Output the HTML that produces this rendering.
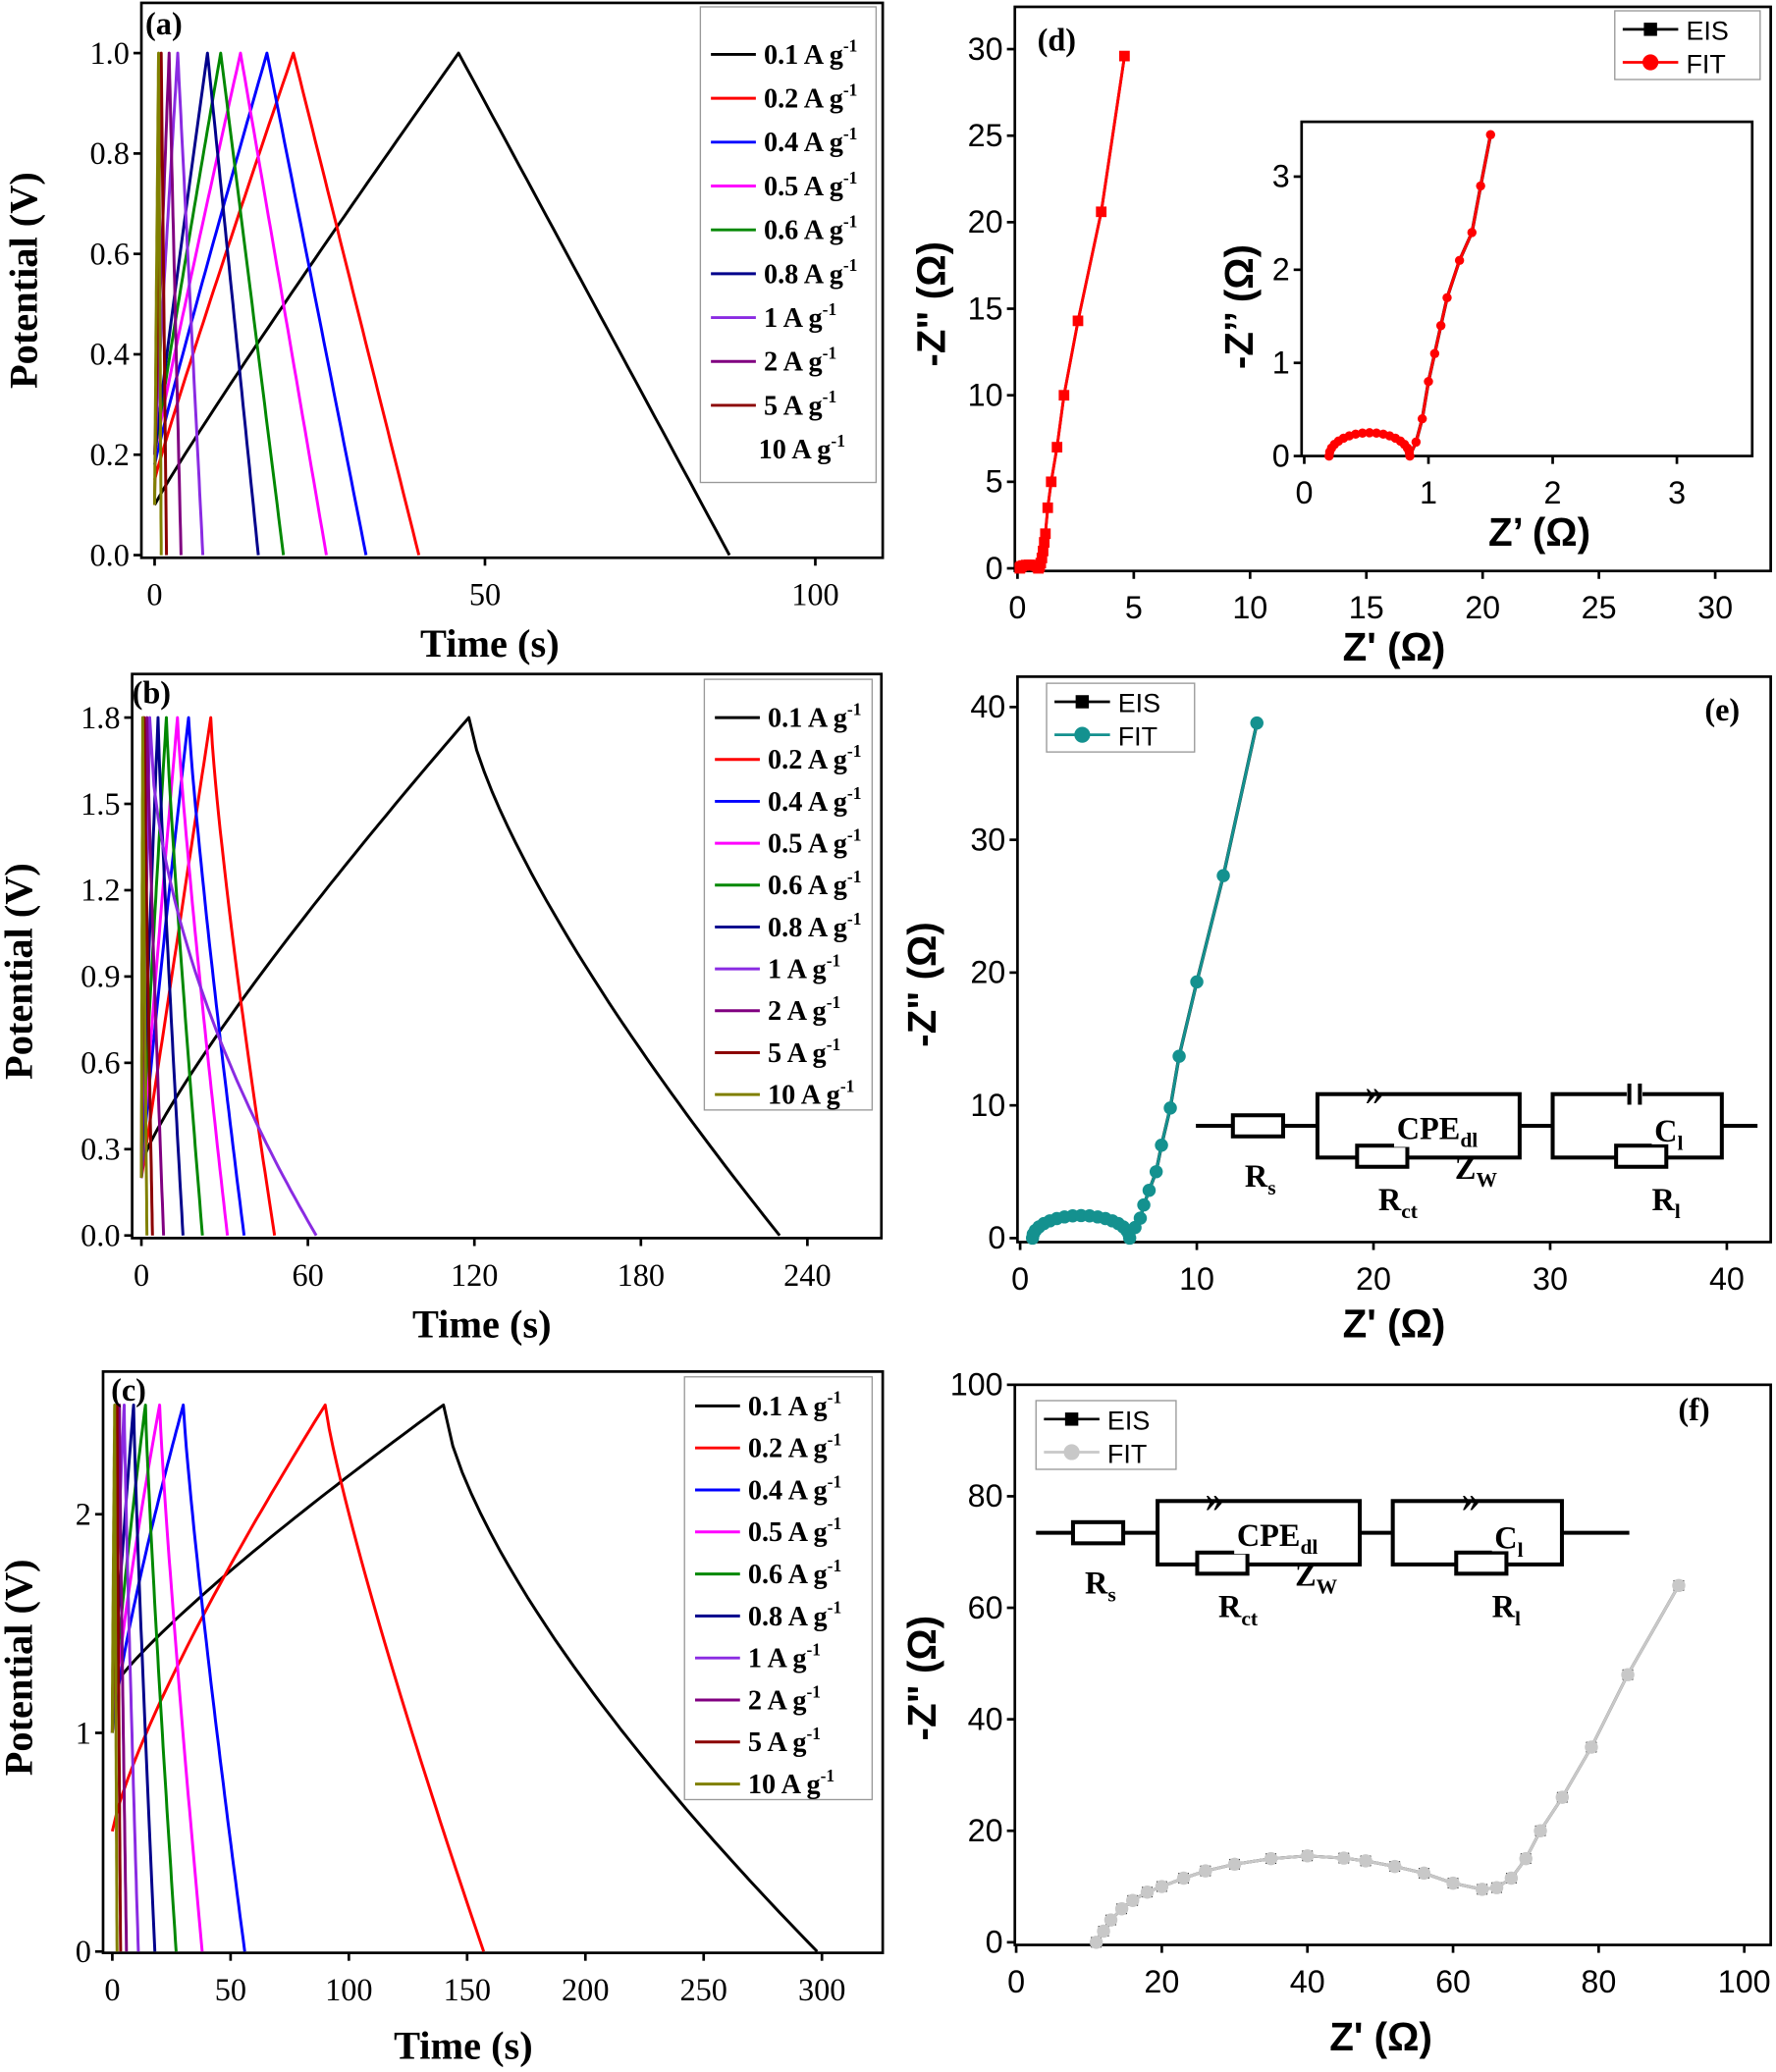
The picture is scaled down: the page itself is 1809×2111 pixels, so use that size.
<!DOCTYPE html>
<html><head><meta charset="utf-8"><style>html,body{margin:0;padding:0;background:#fff}svg{display:block}</style></head>
<body>
<svg id="s" xmlns="http://www.w3.org/2000/svg" width="1809" height="2111" viewBox="0 0 1344 1568" font-family="Liberation Serif, serif">
<rect width="1344" height="1568" fill="#fff"/>
</svg>
<script>
const S=document.getElementById('s');const NS='http://www.w3.org/2000/svg';
function el(t,a,txt){const e=document.createElementNS(NS,t);for(const k in a)e.setAttribute(k,a[k]);if(txt!==undefined)e.innerHTML=txt;S.appendChild(e);return e;}
function pl(pts,c,w){el('polyline',{points:pts.map(p=>p[0].toFixed(1)+','+p[1].toFixed(1)).join(' '),fill:'none',stroke:c,'stroke-width':w||2,'stroke-linejoin':'round'});}
function axes(o){
 el('rect',{x:o.l,y:o.t,width:o.r-o.l,height:o.b-o.t,fill:'none',stroke:'#000','stroke-width':2});
 const ff=o.sans?'Liberation Sans, sans-serif':'Liberation Serif, serif';
 o.xt.forEach(v=>{const x=o.x0+v*o.xs;el('line',{x1:x,y1:o.b,x2:x,y2:o.b+6,stroke:'#000','stroke-width':2});
  el('text',{x:x,y:o.b+36,'text-anchor':'middle','font-size':24,'font-family':ff},String(v));});
 o.yt.forEach(v=>{const y=o.y0-v*o.ys;el('line',{x1:o.l,y1:y,x2:o.l-6,y2:y,stroke:'#000','stroke-width':2});
  el('text',{x:o.l-9,y:y+8,'text-anchor':'end','font-size':24,'font-family':ff},o.fmt?o.fmt(v):String(v));});
}
function T(x,y,s,sz,extra){return el('text',Object.assign({x:x,y:y,'font-size':sz||28,'font-weight':'bold'},extra||{}),s);}
const cols=['#000','#f00','#00f','#f0f','#080','#00008b','#8a2be2','#800080','#8b0000','#808000'];
const labs=['0.1','0.2','0.4','0.5','0.6','0.8','1','2','5','10'];
function gcd(o,x0,xs,y0,ys){
 const [v0,vm,tp,te,c,pc,pd]=o;const pts=[];
 for(let i=0;i<=40;i++){const u=i/40;pts.push([x0+u*tp*xs,y0-(v0+(vm-v0)*Math.pow(u,pc||1))*ys]);}
 for(let i=1;i<=40;i++){const u=i/40;pts.push([x0+(tp+u*(te-tp))*xs,y0-vm*(1-Math.pow(u,pd||1))*ys]);}
 pl(pts,c,2.2);
}
function legend(x,y,w,h,y1,dy,n,showLast){
 el('rect',{x:x,y:y,width:w,height:h,fill:'#fff',stroke:'#999','stroke-width':1});
 for(let i=0;i<n;i++){const yy=y1+i*dy;if(i<9||showLast)el('line',{x1:x+8,y1:yy,x2:x+42,y2:yy,stroke:cols[i],'stroke-width':2.2});
  el('text',{x:x+(i==9&&!showLast?44:48),y:yy+7,'font-size':21,'font-weight':'bold'},labs[i]+' A g<tspan dy="-9" font-size="13">-1</tspan>');}
}
// (a)
axes({l:107,r:668,t:2,b:422,x0:117,xs:5,y0:420,ys:380,xt:[0,50,100],yt:[0,0.2,0.4,0.6,0.8,1],fmt:v=>v.toFixed(1)});
[[0.1,1,46,87],[0.15,1,21,40],[0.18,1,17,32],[0.2,1,13,26],[0.2,1,10,19.5],[0.2,1,8,15.7],[0.2,1,3.5,7.3],[0.2,1,2.2,4],[0.1,1,1,1.8],[0.1,1,0.6,1]].forEach((d,i)=>{d[4]=cols[i];d[5]=0.95;gcd(d,117,5,420,380);});
legend(530,5,133,360,41,33.2,10,false);
T(110,26,'(a)',24);
T(318,497,'Time (s)',30);
T(0,0,'Potential (V)',30,{transform:'translate(28,212) rotate(-90)','text-anchor':'middle'});
// (b)
axes({l:100,r:667,t:510,b:937,x0:107,xs:2.1,y0:935,ys:217.8,xt:[0,60,120,180,240],yt:[0,0.3,0.6,0.9,1.2,1.5,1.8],fmt:v=>v.toFixed(1)});
[[0.25,1.8,118,230,0,0.85,0.75],[0.2,1.8,25,48,0,1,0.8],[0.2,1.8,17,37],[0.2,1.8,13,31],[0.2,1.8,9,22],[0.2,1.8,6,15],[0.2,1.8,3,63,0,1,0.55],[0.2,1.8,2,8],[0.2,1.8,1,4],[0.2,1.8,0.5,2]].forEach((d,i)=>{d[4]=cols[i];if(!d[5])d[5]=0.9;if(!d[6])d[6]=0.85;gcd(d,107,2.1,935,217.8);});
legend(533,514,127,326,543,31.7,10,true);
T(100,532,'(b)',24);
T(312,1012,'Time (s)',30);
T(0,0,'Potential (V)',30,{transform:'translate(24,735) rotate(-90)','text-anchor':'middle'});
// (c)
axes({l:78,r:668,t:1038,b:1478,x0:85,xs:1.79,y0:1477,ys:165.5,xt:[0,50,100,150,200,250,300],yt:[0,1,2]});
[[1.2,2.5,140,298,0,0.85,0.7],[0.55,2.5,90,157,0,0.8,0.85],[1.0,2.5,30,56],[1.0,2.5,20,38],[1.0,2.5,14,27],[1.0,2.5,9,18],[1.0,2.5,5,11],[1.0,2.5,3,6],[1.0,2.5,2,3.5],[1.0,2.5,1,2]].forEach((d,i)=>{d[4]=cols[i];if(!d[5])d[5]=0.8;if(!d[6])d[6]=0.85;gcd(d,85,1.79,1477,165.5);});
legend(518,1042,142,320,1064,31.8,10,true);
T(84,1060,'(c)',24);
T(298,1558,'Time (s)',30);
T(0,0,'Potential (V)',30,{transform:'translate(24,1262) rotate(-90)','text-anchor':'middle'});
// EIS
function semi(x1,x2,h,n){const p=[];for(let i=0;i<=n;i++){const a=Math.PI*i/n;p.push([(x1+x2)/2-(x2-x1)/2*Math.cos(a),h*Math.sin(a)]);}return p;}
function eis(data,x0,xs,y0,ys,c,shape,msz,line){const pts=data.map(p=>[x0+p[0]*xs,y0-p[1]*ys]);if(line!==false)pl(pts,c,2.2);
 pts.forEach(p=>{if(shape=='sq')el('rect',{x:p[0]-msz,y:p[1]-msz,width:2*msz,height:2*msz,fill:c});else el('circle',{cx:p[0],cy:p[1],r:msz,fill:c});});}
function eisLeg(x,y,w,c2){el('rect',{x:x,y:y,width:w,height:52,fill:'#fff',stroke:'#999'});
 el('line',{x1:x+6,y1:y+14,x2:x+48,y2:y+14,stroke:'#000','stroke-width':2});el('rect',{x:x+22,y:y+9,width:10,height:10,fill:'#000'});
 el('line',{x1:x+6,y1:y+39,x2:x+48,y2:y+39,stroke:c2,'stroke-width':2});el('circle',{cx:x+27,cy:y+39,r:6,fill:c2});
 el('text',{x:x+54,y:y+22,'font-size':20,'font-family':'Liberation Sans, sans-serif'},'EIS');
 el('text',{x:x+54,y:y+47,'font-size':20,'font-family':'Liberation Sans, sans-serif'},'FIT');}
function ylab(x,y,t){el('text',{transform:`translate(${x},${y}) rotate(-90)`,'text-anchor':'middle','font-size':30,'font-weight':'bold','font-family':'Liberation Sans, sans-serif'},t);}
function xlab(x,y,t){el('text',{x:x,y:y,'text-anchor':'middle','font-size':30,'font-weight':'bold','font-family':'Liberation Sans, sans-serif'},t);}
// (d)
axes({l:768,r:1340,t:5,b:432,x0:770,xs:17.6,y0:430,ys:13.1,xt:[0,5,10,15,20,25,30],yt:[0,5,10,15,20,25,30],sans:true});
let dd=semi(0.1,0.9,0.2,10).concat([[0.95,0.1],[1.0,0.3],[1.05,0.6],[1.1,1],[1.15,1.5],[1.2,2],[1.3,3.5],[1.45,5],[1.7,7],[2,10],[2.6,14.3],[3.6,20.6],[4.6,29.6]]);
pl(dd.map(p=>[770+p[0]*17.6,430-p[1]*13.1]),'#000',2);eis(dd,770,17.6,430,13.1,'#f00','sq',4);
eisLeg(1222,8,110,'#f00');
T(785,38,'(d)',24);
ylab(715,230,'-Z" (Ω)');xlab(1055,500,"Z' (Ω)");
axes({l:985,r:1326,t:92,b:345,x0:987,xs:94,y0:345,ys:70.5,xt:[0,1,2,3],yt:[0,1,2,3],sans:true});
let di=semi(0.2,0.85,0.25,18).concat([[0.9,0.15],[0.95,0.4],[1.0,0.8],[1.05,1.1],[1.1,1.4],[1.15,1.7],[1.25,2.1],[1.35,2.4],[1.42,2.9],[1.5,3.45]]);
pl(di.map(p=>[987+p[0]*94,345-p[1]*70.5]),'#000',2.5);eis(di,987,94,345,70.5,'#f00','c',3.5);
ylab(948,232,'-Z’’ (Ω)');xlab(1165,413,"Z’ (Ω)");
// (e)
axes({l:770,r:1340,t:512,b:940,x0:772,xs:13.37,y0:937,ys:10.05,xt:[0,10,20,30,40],yt:[0,10,20,30,40],sans:true});
let de=semi(0.7,6.2,1.7,18).concat([[6.5,0.8],[6.8,1.5],[7,2.5],[7.3,3.6],[7.7,5],[8,7],[8.5,9.8],[9,13.7],[10,19.3],[11.5,27.3],[13.4,38.8]]);
pl(de.map(p=>[772+p[0]*13.37,937-p[1]*10.05]),'#000',2.5);eis(de,772,13.37,937,10.05,'#14918f','c',5);
eisLeg(792,517,112,'#14918f');
T(1290,545,'(e)',24);
ylab(708,745,'-Z" (Ω)');xlab(1055,1012,"Z' (Ω)");
// (f)
axes({l:768,r:1340,t:1048,b:1472,x0:769,xs:5.51,y0:1470,ys:4.22,xt:[0,20,40,60,80,100],yt:[0,20,40,60,80,100],sans:true});
let df=[[11,0],[12,2],[13,4],[14.5,6],[16,7.5],[18,9],[20,10],[23,11.5],[26,12.8],[30,14],[35,15],[40,15.5],[45,15.1],[48,14.6],[52,13.6],[56,12.4],[60,10.6],[64,9.5],[66,9.8],[68,11.5],[70,15],[72,20],[75,26],[79,35],[84,48],[91,64]];
eis(df,769,5.51,1470,4.22,'#000','sq',4);eis(df,769,5.51,1470,4.22,'#c8c8c8','c',5);
eisLeg(784,1060,106,'#c8c8c8');
T(1270,1075,'(f)',24);
ylab(708,1270,'-Z" (Ω)');xlab(1045,1552,"Z' (Ω)");
function circuit(x0,y,x1,cap){const g={stroke:'#000','stroke-width':3,fill:'none'};
 el('line',Object.assign({x1:x0,y1:y,x2:x0+28,y2:y},g));el('rect',Object.assign({x:x0+28,y:y-8,width:38,height:16},g));
 el('line',Object.assign({x1:x0+66,y1:y,x2:x0+92,y2:y},g));
 el('rect',Object.assign({x:x0+92,y:y-24,width:153,height:48},g));
 el('rect',Object.assign({x:x0+122,y:y+15,width:38,height:16,fill:'#fff',stroke:'#000','stroke-width':3}));
 el('text',{x:x0+128,y:y-16,'font-size':28,'font-weight':'bold'},'»');
 el('line',Object.assign({x1:x0+245,y1:y,x2:x0+270,y2:y},g));
 el('rect',Object.assign({x:x0+270,y:y-24,width:128,height:48},g));
 el('rect',Object.assign({x:x0+318,y:y+15,width:38,height:16,fill:'#fff',stroke:'#000','stroke-width':3}));
 if(cap){el('rect',{x:x0+326,y:y-32,width:12,height:16,fill:'#fff'});el('line',Object.assign({x1:x0+328,y1:y-32,x2:x0+328,y2:y-16},g));el('line',Object.assign({x1:x0+336,y1:y-32,x2:x0+336,y2:y-16},g));}
 else el('text',{x:x0+322,y:y-16,'font-size':28,'font-weight':'bold'},'»');
 el('line',Object.assign({x1:x0+398,y1:y,x2:x1,y2:y},g));
 const t=(x,yy,a,b)=>el('text',{x:x,y:yy,'font-size':24,'font-weight':'bold'},a+'<tspan dy="6" font-size="16">'+b+'</tspan>');
 el('rect',{x:x0+150,y:y-12,width:80,height:28,fill:'#fff'});
 t(x0+152,y+10,'CPE','dl');t(x0+37,y+46,'R','s');t(x0+138,y+64,'R','ct');t(x0+196,y+40,'Z','W');t(x0+345,y+64,'R','l');
 el('rect',{x:x0+345,y:y-12,width:24,height:26,fill:'#fff'});t(x0+347,y+12,'C','l');
}
circuit(905,852,1330,true);
circuit(784,1160,1233,false);
</script>
</body></html>
